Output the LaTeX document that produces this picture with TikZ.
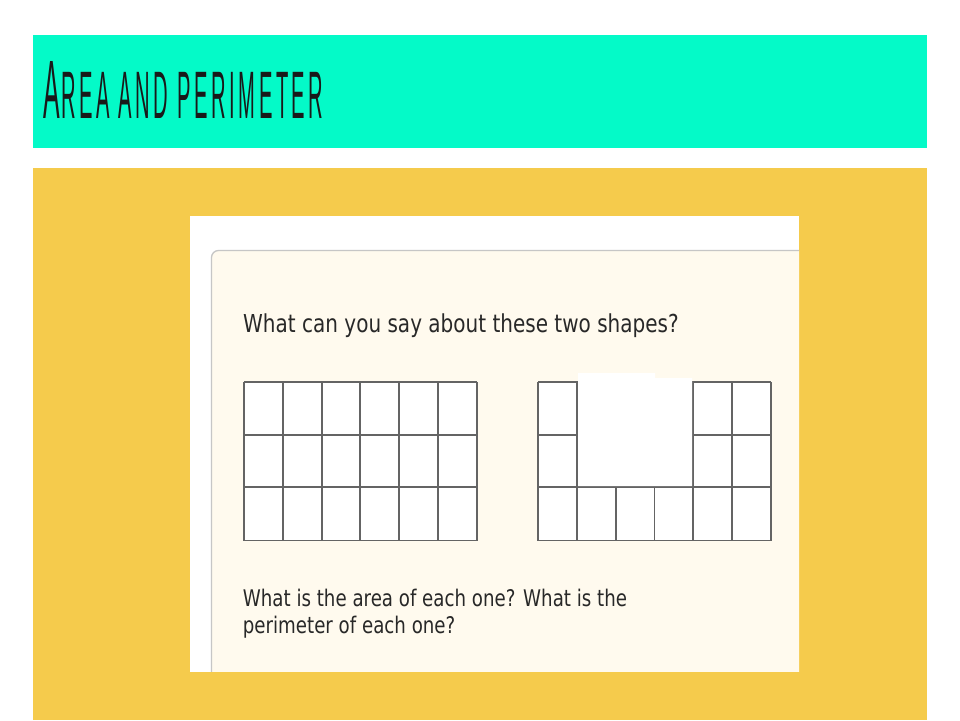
\documentclass[tikz,border=0pt]{standalone}
\usepackage{fontspec}
\setmainfont{DejaVu Sans}
\newfontfamily\qfont[FakeStretch=0.81]{DejaVu Sans}
\newfontfamily\qfontb[FakeStretch=0.795]{DejaVu Sans}
\newfontfamily\tfont[FakeStretch=0.40,LetterSpace=7]{Liberation Sans}
\definecolor{bannerc}{RGB}{4,250,200}
\definecolor{panelc}{RGB}{245,203,76}
\definecolor{creamc}{RGB}{255,250,238}
\definecolor{gridc}{RGB}{100,100,100}
\definecolor{inkc}{RGB}{40,40,40}
\definecolor{titlec}{RGB}{25,25,25}
\tikzset{
  qtext/.style={anchor=base west, inner sep=0pt, text=inkc},
  gridline/.style={draw=gridc, line width=1.9pt},
}
\begin{document}
\begin{tikzpicture}[x=1pt,y=-1pt]
\useasboundingbox (0,0) rectangle (960,720);
\fill[white] (0,0) rectangle (960,720);
% banner
\fill[bannerc] (33,35) rectangle (927,148);
\node[anchor=base west, inner sep=0pt, text=titlec] (title) at (43,118)
  {\resizebox{280pt}{57pt}{\tfont\fontsize{10}{12}\selectfont A\kern0.25pt\fontsize{8.1}{10}\selectfont REA AND PERIMETER}};
% yellow panel
\fill[panelc] (33,168) rectangle (927,720);
% screenshot
\fill[white] (190,216) rectangle (799,671.5);
\begin{scope}
  \clip (190,216) rectangle (799,671.5);
  \filldraw[fill=creamc, draw=gray!45, line width=1.3pt, rounded corners=7pt] (211.5,700) rectangle (830,250.5);
\end{scope}
% question 1
\node[qtext, font=\qfont\fontsize{24.7}{30}\selectfont] (q1) at (243,332.7) {What can you say about these two shapes?};
% grid 1
\fill[white] (244,382) rectangle (476.7,540.5);
\foreach \i in {0,...,6} {
  \draw[gridline] ({244+\i*38.78},382) -- ({244+\i*38.78},540.5);
}
\foreach \y in {382,435,487,540.5} {
  \draw[gridline] (244,\y) -- (476.7,\y);
}
% grid 2
\fill[white] (538.3,382) rectangle (770.7,540.5);
\foreach \i in {0,...,6} {
  \draw[gridline] ({538.3+\i*38.73},382) -- ({538.3+\i*38.73},540.5);
}
\foreach \y in {382,435,487,540.5} {
  \draw[gridline] (538.3,\y) -- (770.7,\y);
}
\fill[white] (578.2,373) -- (655,373) -- (655,378) -- (692.1,378) -- (692.1,486) -- (578.2,486) -- cycle;
% question 2
\node[qtext, font=\qfontb\fontsize{22.9}{27}\selectfont] (q2a) at (242.7,606.7) {What is the area of each one? What is the};
\node[qtext, font=\qfontb\fontsize{22.9}{27}\selectfont] (q2b) at (242.7,633.5) {perimeter of each one?};
\end{tikzpicture}
\end{document}
